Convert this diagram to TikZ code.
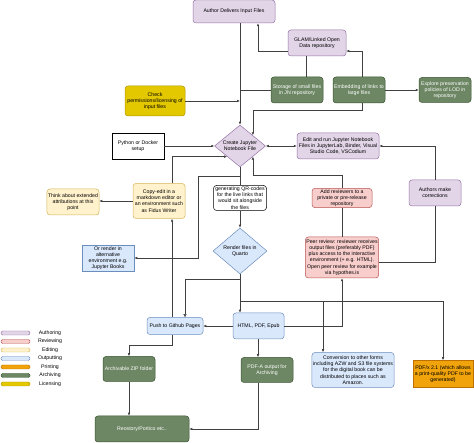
\documentclass[tikz,border=0pt]{standalone}
\usepackage{fontspec}
\setmainfont{Liberation Sans}
\usetikzlibrary{shapes.geometric, arrows.meta, positioning}
\definecolor{authfill}{HTML}{E1D5E7}
\definecolor{authdraw}{HTML}{9673A6}
\definecolor{revfill}{HTML}{F8CECC}
\definecolor{revdraw}{HTML}{B85450}
\definecolor{editfill}{HTML}{FFF2CC}
\definecolor{editdraw}{HTML}{D6B656}
\definecolor{outfill}{HTML}{DAE8FC}
\definecolor{outdraw}{HTML}{6C8EBF}
\definecolor{printfill}{HTML}{F0A30A}
\definecolor{printdraw}{HTML}{BD7000}
\definecolor{archfill}{HTML}{6D8764}
\definecolor{archdraw}{HTML}{3A5431}
\definecolor{licfill}{HTML}{E3C800}
\definecolor{licdraw}{HTML}{B09500}
\tikzset{
>={Latex[length=3pt,width=2.6pt]}, % small filled arrow heads
every node/.style={font=\fontsize{5.2}{6.2}\selectfont}, % drawio-like small text
box/.style={draw, line width=0.5pt, rounded corners=3pt, align=center, inner sep=1pt},
plainbox/.style={box, sharp corners},
decision/.style={diamond, draw, line width=0.5pt, aspect=1.2, inner sep=0pt, align=center},
flow/.style={draw=black!75, line width=0.6pt},
legendbar/.style={draw, line width=0.4pt, rounded corners=1.5pt, minimum width=29pt, minimum height=4pt, inner sep=0pt},
}
\tikzset{
  authoring/.style={fill=authfill, draw=authdraw},
  reviewing/.style={fill=revfill, draw=revdraw},
  editing/.style={fill=editfill, draw=editdraw},
  outputting/.style={fill=outfill, draw=outdraw},
  printing/.style={fill=printfill, draw=printdraw},
  archiving/.style={fill=archfill, draw=archdraw, text=white},
  licensing/.style={fill=licfill, draw=licdraw}
}
\begin{document}
\begin{tikzpicture}[x=1pt, y=-1pt]
      \useasboundingbox (0,0) rectangle (474,443);
      \node[decision, authoring, minimum width=51pt, minimum height=42pt] (create) at (240,146) {Create Jupyter\\Notebook File};
      \node[box, authoring, minimum width=82pt, minimum height=23pt, node distance=134.5pt, above of=create, xshift=-6pt] (author) {Author Delivers Input Files};
      \node[box, licensing, minimum width=60pt, minimum height=30pt, node distance=85pt, left of=create, yshift=45pt] (check) {Check\\permissions/licensing of\\input files};
      \node[plainbox, minimum width=52pt, minimum height=26pt, node distance=102pt, left of=create] (python) {Python or Docker\\setup};
      \node[box, authoring, minimum width=82pt, minimum height=26pt, node distance=98pt, right of=create] (edit) {Edit and run Jupyter Notebook\\Files in JupyterLab, Binder, Visual\\Studio Code, VSCodium};
      \node[box, archiving, minimum width=52pt, minimum height=26pt, node distance=57pt, right of=create, yshift=56pt] (storage) {Storage of small files\\in JN repository};
      \node[box, archiving, minimum width=52pt, minimum height=26pt, node distance=62pt, right of=storage] (embed) {Embedding of links to\\large files};
      \node[box, archiving, minimum width=52pt, minimum height=25pt, node distance=86pt, right of=embed] (explore) {Explore preservation\\policies of LOD in\\repository};
      \node[box, authoring, minimum width=58pt, minimum height=26pt, node distance=47pt, above of=storage, xshift=20pt] (glam) {GLAM/Linked Open\\Data repository};
      \node[box, minimum width=53pt, minimum height=25pt, node distance=52pt, below of=create] (qr) {generating QR-codes\\for the live links that\\would sit alongside\\the files};
      \node[decision, outputting, minimum width=54pt, minimum height=46pt, node distance=53pt, below of=qr] (render) {Render files in\\Quarto};
      \node[box, editing, minimum width=52pt, minimum height=35pt, node distance=81pt, left of=qr, yshift=-3pt] (copyedit) {Copy-edit in a\\markdown editor or\\an environment such\\as Fidus Writer};
      \node[box, editing, minimum width=51pt, minimum height=26pt, node distance=86pt, left of=copyedit, yshift=-1pt] (think) {Think about extended\\attributions at this\\point};
      \node[plainbox, outputting, minimum width=52pt, minimum height=26pt, node distance=132pt, left of=render, yshift=-7pt] (altrender) {Or render in\\alternative\\environment e.g.\\Jupyter Books};
      \node[box, reviewing, minimum width=60pt, minimum height=18pt, node distance=102pt, right of=qr] (addrev) {Add reviewers to a\\private or pre-release\\repository};
      \node[box, authoring, minimum width=52pt, minimum height=26pt, node distance=93pt, right of=addrev, yshift=5pt] (corrections) {Authors make\\corrections};
      \node[box, reviewing, minimum width=73pt, minimum height=41pt, node distance=59.5pt, below of=addrev] (peer) {Peer review: reviewer receives\\output files (preferably PDF)\\plus access to the interactive\\environment (+ e.g. HTML).\\Open peer review for example\\via hypothes.is};
      \node[box, outputting, minimum width=51pt, minimum height=26pt, node distance=75pt, below of=render, xshift=18.5pt] (html) {HTML, PDF, Epub};
      \node[box, outputting, minimum width=56pt, minimum height=17pt, node distance=83.5pt, left of=html] (push) {Push to Github Pages};
      \node[box, archiving, minimum width=52pt, minimum height=25pt, node distance=43pt, below of=push, xshift=-46pt] (archzip) {Archivable ZIP folder};
      \node[box, archiving, minimum width=52pt, minimum height=25pt, node distance=44pt, below of=html, xshift=8.5pt] (pdfa) {PDF-A output for\\Archiving};
      \node[box, outputting, minimum width=82pt, minimum height=35pt, node distance=86pt, right of=pdfa] (convert) {Conversion to other forms\\including AZW and S3 file systems\\for the digital book can be\\distributed to places such as\\Amazon.};
      \node[plainbox, printing, minimum width=60pt, minimum height=27pt, node distance=90pt, right of=convert, yshift=-4pt] (pdfx) {PDF/x 2.1 (which allows\\a print-quality PDF to be\\generated)};
      \node[box, archiving, minimum width=94pt, minimum height=26pt, node distance=60pt, below of=archzip, xshift=13pt] (portico) {Reostory/Portico etc..};
      \coordinate (qrsplit) at ([yshift=-9pt]create.south);
      \coordinate (outsplit) at ([yshift=-27pt]render.south);

      % legend
      \node[legendbar, authoring] (keyauth) at (15.5,333) {};
      \node[legendbar, reviewing, node distance=8.5pt, below of=keyauth] (keyrev) {};
      \node[legendbar, editing, node distance=8.5pt, below of=keyrev] (keyedit) {};
      \node[legendbar, outputting, node distance=8.5pt, below of=keyedit] (keyout) {};
      \node[legendbar, printing, node distance=8.5pt, below of=keyout] (keyprint) {};
      \node[legendbar, archiving, node distance=8.5pt, below of=keyprint] (keyarch) {};
      \node[legendbar, licensing, node distance=8.5pt, below of=keyarch] (keylic) {};
      \node[node distance=34.5pt, right of=keyauth] (keyauthtext) {Authoring};
      \node[node distance=34.5pt, right of=keyrev] (keyrevtext) {Reviewing};
      \node[node distance=34.5pt, right of=keyedit] (keyedittext) {Editing};
      \node[node distance=34.5pt, right of=keyout] (keyouttext) {Outputting};
      \node[node distance=34.5pt, right of=keyprint] (keyprinttext) {Printing};
      \node[node distance=34.5pt, right of=keyarch] (keyarchtext) {Archiving};
      \node[node distance=34.5pt, right of=keylic] (keylictext) {Licensing};

      \draw[flow, ->] (author.south -| create.north) -- (create.north);
      \draw[flow, ->] (check.east) -- (check.east -| create.north);
      \draw[flow] (storage.west) -- (storage.west -| create.north);
      \draw[flow] ([xshift=-11pt]glam.south) -- ([xshift=-11pt]glam.south |- storage.north);
      \draw[flow, ->] ([yshift=-8pt]glam.west) -| ([xshift=24pt]author.south);
      \draw[flow, ->] ([xshift=3pt]embed.north) |- ([yshift=-8pt]glam.east);
      \draw[flow, ->] (embed.east) -- (explore.west);
      \draw[flow, ->] ([xshift=3pt]embed.south) -- ++(0,7) -| (create.north east);
      \draw[flow, ->] (python.east) -- (create.west);
      \draw[flow, <->] (create.east) -- (edit.west);
      \draw[flow, ->] (corrections.north) |- (edit.east);
      \draw[flow] ([yshift=-4.5pt]peer.east) -| (corrections.south);
      \draw[flow, ->] (addrev.north) -- ++(0,-13) -| (create.south east);
      \draw[flow] (peer.north) -- (addrev.south);
      \draw[flow] (create.south) -- (qr.north);
      \draw[flow, ->] (qr.south) -- (render.north);
      \draw[flow, ->] (qrsplit) -- ++(-42,0) |- (altrender.east);
      \draw[flow, ->] ([xshift=13pt]copyedit.north) |- (create.south west);
      \draw[flow, ->] (copyedit.west) -- (copyedit.west -| think.east);
      \draw[flow, ->] ([xshift=-3pt]push.north) -- ([xshift=13pt]copyedit.south);
      \draw[flow, -{Triangle[open,length=3.2pt,width=3.2pt]}] (render.south) -- ++(0,5) -| ([xshift=10pt]push.north);
      \draw[flow, ->] (render.south) -- (render.south |- html.north);
      \draw[flow, ->] (outsplit) -| (pdfx.north);
      \draw[flow, ->] (outsplit) -| ([xshift=-30pt]convert.north);
      \draw[flow, ->] (html.east) -| (peer.south);
      \draw[flow, ->] (html.west) -- (html.west -| push.east);
      \draw[flow, ->] ([xshift=-0.5pt]html.south) -- ([xshift=-0.5pt]html.south |- pdfa.north);
      \draw[flow, ->] ([xshift=-9pt]pdfa.south) |- (portico.east);
      \draw[flow, ->] ([xshift=-3pt]push.south) -- ++(0,11) -| (archzip.north);
      \draw[flow, ->] (archzip.south) -- (archzip.south |- portico.north);
\end{tikzpicture}
\end{document}
